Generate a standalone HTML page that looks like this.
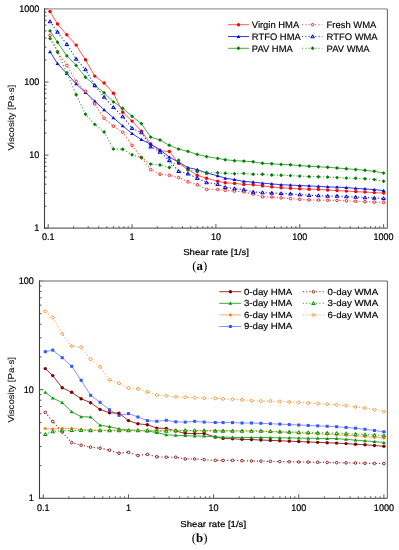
<!DOCTYPE html>
<html><head><meta charset="utf-8"><style>html,body{margin:0;padding:0;background:#fff;width:399px;height:550px;overflow:hidden}svg{display:block;font-family:"Liberation Sans",sans-serif;will-change:transform}text{text-rendering:geometricPrecision}</style></head><body>
<svg width="399" height="550" viewBox="0 0 399 550" font-family="Liberation Sans, sans-serif" fill="#000">
<rect width="399" height="550" fill="#fff"/>
<g stroke="#555" stroke-width="1"><line x1="44.5" y1="228.2" x2="48.5" y2="228.2"/><line x1="44.5" y1="206.19" x2="46.5" y2="206.19"/><line x1="44.5" y1="193.32" x2="46.5" y2="193.32"/><line x1="44.5" y1="184.19" x2="46.5" y2="184.19"/><line x1="44.5" y1="177.11" x2="46.5" y2="177.11"/><line x1="44.5" y1="171.32" x2="46.5" y2="171.32"/><line x1="44.5" y1="166.42" x2="46.5" y2="166.42"/><line x1="44.5" y1="162.18" x2="46.5" y2="162.18"/><line x1="44.5" y1="158.44" x2="46.5" y2="158.44"/><line x1="44.5" y1="155.1" x2="48.5" y2="155.1"/><line x1="44.5" y1="133.09" x2="46.5" y2="133.09"/><line x1="44.5" y1="120.22" x2="46.5" y2="120.22"/><line x1="44.5" y1="111.09" x2="46.5" y2="111.09"/><line x1="44.5" y1="104.01" x2="46.5" y2="104.01"/><line x1="44.5" y1="98.22" x2="46.5" y2="98.22"/><line x1="44.5" y1="93.32" x2="46.5" y2="93.32"/><line x1="44.5" y1="89.08" x2="46.5" y2="89.08"/><line x1="44.5" y1="85.34" x2="46.5" y2="85.34"/><line x1="44.5" y1="82" x2="48.5" y2="82"/><line x1="44.5" y1="59.99" x2="46.5" y2="59.99"/><line x1="44.5" y1="47.12" x2="46.5" y2="47.12"/><line x1="44.5" y1="37.99" x2="46.5" y2="37.99"/><line x1="44.5" y1="30.91" x2="46.5" y2="30.91"/><line x1="44.5" y1="25.12" x2="46.5" y2="25.12"/><line x1="44.5" y1="20.22" x2="46.5" y2="20.22"/><line x1="44.5" y1="15.98" x2="46.5" y2="15.98"/><line x1="44.5" y1="12.24" x2="46.5" y2="12.24"/><line x1="44.5" y1="8.9" x2="48.5" y2="8.9"/><line x1="48.2" y1="228.2" x2="48.2" y2="224.2"/><line x1="73.44" y1="228.2" x2="73.44" y2="226.2"/><line x1="88.21" y1="228.2" x2="88.21" y2="226.2"/><line x1="98.68" y1="228.2" x2="98.68" y2="226.2"/><line x1="106.81" y1="228.2" x2="106.81" y2="226.2"/><line x1="113.45" y1="228.2" x2="113.45" y2="226.2"/><line x1="119.06" y1="228.2" x2="119.06" y2="226.2"/><line x1="123.92" y1="228.2" x2="123.92" y2="226.2"/><line x1="128.21" y1="228.2" x2="128.21" y2="226.2"/><line x1="132.05" y1="228.2" x2="132.05" y2="224.2"/><line x1="157.29" y1="228.2" x2="157.29" y2="226.2"/><line x1="172.06" y1="228.2" x2="172.06" y2="226.2"/><line x1="182.53" y1="228.2" x2="182.53" y2="226.2"/><line x1="190.66" y1="228.2" x2="190.66" y2="226.2"/><line x1="197.3" y1="228.2" x2="197.3" y2="226.2"/><line x1="202.91" y1="228.2" x2="202.91" y2="226.2"/><line x1="207.77" y1="228.2" x2="207.77" y2="226.2"/><line x1="212.06" y1="228.2" x2="212.06" y2="226.2"/><line x1="215.9" y1="228.2" x2="215.9" y2="224.2"/><line x1="241.14" y1="228.2" x2="241.14" y2="226.2"/><line x1="255.91" y1="228.2" x2="255.91" y2="226.2"/><line x1="266.38" y1="228.2" x2="266.38" y2="226.2"/><line x1="274.51" y1="228.2" x2="274.51" y2="226.2"/><line x1="281.15" y1="228.2" x2="281.15" y2="226.2"/><line x1="286.76" y1="228.2" x2="286.76" y2="226.2"/><line x1="291.62" y1="228.2" x2="291.62" y2="226.2"/><line x1="295.91" y1="228.2" x2="295.91" y2="226.2"/><line x1="299.75" y1="228.2" x2="299.75" y2="224.2"/><line x1="324.99" y1="228.2" x2="324.99" y2="226.2"/><line x1="339.76" y1="228.2" x2="339.76" y2="226.2"/><line x1="350.23" y1="228.2" x2="350.23" y2="226.2"/><line x1="358.36" y1="228.2" x2="358.36" y2="226.2"/><line x1="365" y1="228.2" x2="365" y2="226.2"/><line x1="370.61" y1="228.2" x2="370.61" y2="226.2"/><line x1="375.47" y1="228.2" x2="375.47" y2="226.2"/><line x1="379.76" y1="228.2" x2="379.76" y2="226.2"/><line x1="383.6" y1="228.2" x2="383.6" y2="224.2"/></g>
<polyline points="50,11.5 57.52,24 66.83,34.8 76.15,45.1 85.47,59.8 94.78,76.1 104.1,83 113.42,93.2 122.73,112.3 132.05,121.1 141.37,131.3 150.68,143.9 160,150.7 169.32,151.5 178.63,163.4 187.95,169.5 197.27,175.4 206.58,178.2 217.7,181.3 225.22,182.8 234.53,183.4 243.85,184.4 253.17,184.8 262.48,185.9 271.8,186.9 281.12,187.8 290.43,188.3 299.75,188.8 309.07,189.2 318.38,189.4 327.7,190.1 337.02,190.6 346.33,191.1 355.65,191.6 364.97,192.1 374.28,192.6 383.6,193.1" fill="none" stroke="#ff5a5a" stroke-width="1"/>
<circle cx="50" cy="11.5" r="1.7" fill="#ff0000"/>
<circle cx="57.52" cy="24" r="1.7" fill="#ff0000"/>
<circle cx="66.83" cy="34.8" r="1.7" fill="#ff0000"/>
<circle cx="76.15" cy="45.1" r="1.7" fill="#ff0000"/>
<circle cx="85.47" cy="59.8" r="1.7" fill="#ff0000"/>
<circle cx="94.78" cy="76.1" r="1.7" fill="#ff0000"/>
<circle cx="104.1" cy="83" r="1.7" fill="#ff0000"/>
<circle cx="113.42" cy="93.2" r="1.7" fill="#ff0000"/>
<circle cx="122.73" cy="112.3" r="1.7" fill="#ff0000"/>
<circle cx="132.05" cy="121.1" r="1.7" fill="#ff0000"/>
<circle cx="141.37" cy="131.3" r="1.7" fill="#ff0000"/>
<circle cx="150.68" cy="143.9" r="1.7" fill="#ff0000"/>
<circle cx="160" cy="150.7" r="1.7" fill="#ff0000"/>
<circle cx="169.32" cy="151.5" r="1.7" fill="#ff0000"/>
<circle cx="178.63" cy="163.4" r="1.7" fill="#ff0000"/>
<circle cx="187.95" cy="169.5" r="1.7" fill="#ff0000"/>
<circle cx="197.27" cy="175.4" r="1.7" fill="#ff0000"/>
<circle cx="206.58" cy="178.2" r="1.7" fill="#ff0000"/>
<circle cx="217.7" cy="181.3" r="1.7" fill="#ff0000"/>
<circle cx="225.22" cy="182.8" r="1.7" fill="#ff0000"/>
<circle cx="234.53" cy="183.4" r="1.7" fill="#ff0000"/>
<circle cx="243.85" cy="184.4" r="1.7" fill="#ff0000"/>
<circle cx="253.17" cy="184.8" r="1.7" fill="#ff0000"/>
<circle cx="262.48" cy="185.9" r="1.7" fill="#ff0000"/>
<circle cx="271.8" cy="186.9" r="1.7" fill="#ff0000"/>
<circle cx="281.12" cy="187.8" r="1.7" fill="#ff0000"/>
<circle cx="290.43" cy="188.3" r="1.7" fill="#ff0000"/>
<circle cx="299.75" cy="188.8" r="1.7" fill="#ff0000"/>
<circle cx="309.07" cy="189.2" r="1.7" fill="#ff0000"/>
<circle cx="318.38" cy="189.4" r="1.7" fill="#ff0000"/>
<circle cx="327.7" cy="190.1" r="1.7" fill="#ff0000"/>
<circle cx="337.02" cy="190.6" r="1.7" fill="#ff0000"/>
<circle cx="346.33" cy="191.1" r="1.7" fill="#ff0000"/>
<circle cx="355.65" cy="191.6" r="1.7" fill="#ff0000"/>
<circle cx="364.97" cy="192.1" r="1.7" fill="#ff0000"/>
<circle cx="374.28" cy="192.6" r="1.7" fill="#ff0000"/>
<circle cx="383.6" cy="193.1" r="1.7" fill="#ff0000"/>
<polyline points="50,51.7 57.52,63.6 66.83,73.5 76.15,83.9 85.47,92.6 94.78,101.1 104.1,109.8 113.42,117.8 122.73,125.9 132.05,133.5 141.37,139.6 150.68,144.1 160,149.8 169.32,157.1 178.63,162.1 187.95,167.6 197.27,169.6 206.58,173 217.7,175.8 225.22,178.2 234.53,179.6 243.85,181.4 253.17,182.1 262.48,183.2 271.8,183.9 281.12,184.7 290.43,185.1 299.75,185.6 309.07,185.9 318.38,186.4 327.7,186.9 337.02,187.1 346.33,187.6 355.65,188.4 364.97,188.9 374.28,189.6 383.6,190.6" fill="none" stroke="#3a3ae0" stroke-width="1"/>
<polygon points="50,49.9 51.98,53.14 48.02,53.14" fill="#0a0ad8"/>
<polygon points="57.52,61.8 59.5,65.04 55.54,65.04" fill="#0a0ad8"/>
<polygon points="66.83,71.7 68.81,74.94 64.85,74.94" fill="#0a0ad8"/>
<polygon points="76.15,82.1 78.13,85.34 74.17,85.34" fill="#0a0ad8"/>
<polygon points="85.47,90.8 87.45,94.04 83.49,94.04" fill="#0a0ad8"/>
<polygon points="94.78,99.3 96.76,102.54 92.8,102.54" fill="#0a0ad8"/>
<polygon points="104.1,108 106.08,111.24 102.12,111.24" fill="#0a0ad8"/>
<polygon points="113.42,116 115.4,119.24 111.44,119.24" fill="#0a0ad8"/>
<polygon points="122.73,124.1 124.71,127.34 120.75,127.34" fill="#0a0ad8"/>
<polygon points="132.05,131.7 134.03,134.94 130.07,134.94" fill="#0a0ad8"/>
<polygon points="141.37,137.8 143.35,141.04 139.39,141.04" fill="#0a0ad8"/>
<polygon points="150.68,142.3 152.66,145.54 148.7,145.54" fill="#0a0ad8"/>
<polygon points="160,148 161.98,151.24 158.02,151.24" fill="#0a0ad8"/>
<polygon points="169.32,155.3 171.3,158.54 167.34,158.54" fill="#0a0ad8"/>
<polygon points="178.63,160.3 180.61,163.54 176.65,163.54" fill="#0a0ad8"/>
<polygon points="187.95,165.8 189.93,169.04 185.97,169.04" fill="#0a0ad8"/>
<polygon points="197.27,167.8 199.25,171.04 195.29,171.04" fill="#0a0ad8"/>
<polygon points="206.58,171.2 208.56,174.44 204.6,174.44" fill="#0a0ad8"/>
<polygon points="217.7,174 219.68,177.24 215.72,177.24" fill="#0a0ad8"/>
<polygon points="225.22,176.4 227.2,179.64 223.24,179.64" fill="#0a0ad8"/>
<polygon points="234.53,177.8 236.51,181.04 232.55,181.04" fill="#0a0ad8"/>
<polygon points="243.85,179.6 245.83,182.84 241.87,182.84" fill="#0a0ad8"/>
<polygon points="253.17,180.3 255.15,183.54 251.19,183.54" fill="#0a0ad8"/>
<polygon points="262.48,181.4 264.46,184.64 260.5,184.64" fill="#0a0ad8"/>
<polygon points="271.8,182.1 273.78,185.34 269.82,185.34" fill="#0a0ad8"/>
<polygon points="281.12,182.9 283.1,186.14 279.14,186.14" fill="#0a0ad8"/>
<polygon points="290.43,183.3 292.41,186.54 288.45,186.54" fill="#0a0ad8"/>
<polygon points="299.75,183.8 301.73,187.04 297.77,187.04" fill="#0a0ad8"/>
<polygon points="309.07,184.1 311.05,187.34 307.09,187.34" fill="#0a0ad8"/>
<polygon points="318.38,184.6 320.36,187.84 316.4,187.84" fill="#0a0ad8"/>
<polygon points="327.7,185.1 329.68,188.34 325.72,188.34" fill="#0a0ad8"/>
<polygon points="337.02,185.3 339,188.54 335.04,188.54" fill="#0a0ad8"/>
<polygon points="346.33,185.8 348.31,189.04 344.35,189.04" fill="#0a0ad8"/>
<polygon points="355.65,186.6 357.63,189.84 353.67,189.84" fill="#0a0ad8"/>
<polygon points="364.97,187.1 366.95,190.34 362.99,190.34" fill="#0a0ad8"/>
<polygon points="374.28,187.8 376.26,191.04 372.3,191.04" fill="#0a0ad8"/>
<polygon points="383.6,188.8 385.58,192.04 381.62,192.04" fill="#0a0ad8"/>
<polyline points="50,30.9 57.52,42.3 66.83,55.9 76.15,65.4 85.47,77.2 94.78,85.4 104.1,92.8 113.42,101.9 122.73,108.2 132.05,116.3 141.37,123.6 150.68,137.1 160,140 169.32,145.3 178.63,149.1 187.95,151.4 197.27,154.4 206.58,156.6 217.7,158.4 225.22,159.7 234.53,160.7 243.85,161.1 253.17,161.8 262.48,163.3 271.8,163.8 281.12,164.4 290.43,164.8 299.75,165.6 309.07,166.2 318.38,166.7 327.7,167.3 337.02,168 346.33,168.7 355.65,169.5 364.97,170.3 374.28,171.3 383.6,173.1" fill="none" stroke="#48aa48" stroke-width="1"/>
<polygon points="50,28.95 51.95,30.9 50,32.85 48.05,30.9" fill="#008000"/>
<polygon points="57.52,40.35 59.47,42.3 57.52,44.25 55.57,42.3" fill="#008000"/>
<polygon points="66.83,53.95 68.78,55.9 66.83,57.85 64.88,55.9" fill="#008000"/>
<polygon points="76.15,63.45 78.1,65.4 76.15,67.35 74.2,65.4" fill="#008000"/>
<polygon points="85.47,75.25 87.42,77.2 85.47,79.15 83.52,77.2" fill="#008000"/>
<polygon points="94.78,83.45 96.73,85.4 94.78,87.35 92.83,85.4" fill="#008000"/>
<polygon points="104.1,90.85 106.05,92.8 104.1,94.75 102.15,92.8" fill="#008000"/>
<polygon points="113.42,99.95 115.37,101.9 113.42,103.85 111.47,101.9" fill="#008000"/>
<polygon points="122.73,106.25 124.68,108.2 122.73,110.15 120.78,108.2" fill="#008000"/>
<polygon points="132.05,114.35 134,116.3 132.05,118.25 130.1,116.3" fill="#008000"/>
<polygon points="141.37,121.65 143.32,123.6 141.37,125.55 139.42,123.6" fill="#008000"/>
<polygon points="150.68,135.15 152.63,137.1 150.68,139.05 148.73,137.1" fill="#008000"/>
<polygon points="160,138.05 161.95,140 160,141.95 158.05,140" fill="#008000"/>
<polygon points="169.32,143.35 171.27,145.3 169.32,147.25 167.37,145.3" fill="#008000"/>
<polygon points="178.63,147.15 180.58,149.1 178.63,151.05 176.68,149.1" fill="#008000"/>
<polygon points="187.95,149.45 189.9,151.4 187.95,153.35 186,151.4" fill="#008000"/>
<polygon points="197.27,152.45 199.22,154.4 197.27,156.35 195.32,154.4" fill="#008000"/>
<polygon points="206.58,154.65 208.53,156.6 206.58,158.55 204.63,156.6" fill="#008000"/>
<polygon points="217.7,156.45 219.65,158.4 217.7,160.35 215.75,158.4" fill="#008000"/>
<polygon points="225.22,157.75 227.17,159.7 225.22,161.65 223.27,159.7" fill="#008000"/>
<polygon points="234.53,158.75 236.48,160.7 234.53,162.65 232.58,160.7" fill="#008000"/>
<polygon points="243.85,159.15 245.8,161.1 243.85,163.05 241.9,161.1" fill="#008000"/>
<polygon points="253.17,159.85 255.12,161.8 253.17,163.75 251.22,161.8" fill="#008000"/>
<polygon points="262.48,161.35 264.43,163.3 262.48,165.25 260.53,163.3" fill="#008000"/>
<polygon points="271.8,161.85 273.75,163.8 271.8,165.75 269.85,163.8" fill="#008000"/>
<polygon points="281.12,162.45 283.07,164.4 281.12,166.35 279.17,164.4" fill="#008000"/>
<polygon points="290.43,162.85 292.38,164.8 290.43,166.75 288.48,164.8" fill="#008000"/>
<polygon points="299.75,163.65 301.7,165.6 299.75,167.55 297.8,165.6" fill="#008000"/>
<polygon points="309.07,164.25 311.02,166.2 309.07,168.15 307.12,166.2" fill="#008000"/>
<polygon points="318.38,164.75 320.33,166.7 318.38,168.65 316.43,166.7" fill="#008000"/>
<polygon points="327.7,165.35 329.65,167.3 327.7,169.25 325.75,167.3" fill="#008000"/>
<polygon points="337.02,166.05 338.97,168 337.02,169.95 335.07,168" fill="#008000"/>
<polygon points="346.33,166.75 348.28,168.7 346.33,170.65 344.38,168.7" fill="#008000"/>
<polygon points="355.65,167.55 357.6,169.5 355.65,171.45 353.7,169.5" fill="#008000"/>
<polygon points="364.97,168.35 366.92,170.3 364.97,172.25 363.02,170.3" fill="#008000"/>
<polygon points="374.28,169.35 376.23,171.3 374.28,173.25 372.33,171.3" fill="#008000"/>
<polygon points="383.6,171.15 385.55,173.1 383.6,175.05 381.65,173.1" fill="#008000"/>
<polyline points="50,35.4 57.52,51.6 66.83,65.4 76.15,81.4 85.47,91.2 94.78,104 104.1,118.2 113.42,126.2 122.73,132.3 132.05,145.4 141.37,157.6 150.68,169.6 160,174.2 169.32,175.3 178.63,177.6 187.95,181.8 197.27,184.8 206.58,189.4 217.7,189.5 225.22,190.3 234.53,191.1 243.85,191.9 253.17,194.1 262.48,196.8 271.8,197.1 281.12,197.9 290.43,198.6 299.75,199.4 309.07,199.9 318.38,200.1 327.7,200.3 337.02,200.4 346.33,200.84 355.65,201.28 364.97,201.72 374.28,202.16 383.6,202.6" fill="none" stroke="#ff5a5a" stroke-width="1.15" stroke-dasharray="1.2,2.1"/>
<circle cx="50" cy="35.4" r="1.3" fill="#fff" stroke="#ff0000" stroke-width="0.85"/>
<circle cx="57.52" cy="51.6" r="1.3" fill="#fff" stroke="#ff0000" stroke-width="0.85"/>
<circle cx="66.83" cy="65.4" r="1.3" fill="#fff" stroke="#ff0000" stroke-width="0.85"/>
<circle cx="76.15" cy="81.4" r="1.3" fill="#fff" stroke="#ff0000" stroke-width="0.85"/>
<circle cx="85.47" cy="91.2" r="1.3" fill="#fff" stroke="#ff0000" stroke-width="0.85"/>
<circle cx="94.78" cy="104" r="1.3" fill="#fff" stroke="#ff0000" stroke-width="0.85"/>
<circle cx="104.1" cy="118.2" r="1.3" fill="#fff" stroke="#ff0000" stroke-width="0.85"/>
<circle cx="113.42" cy="126.2" r="1.3" fill="#fff" stroke="#ff0000" stroke-width="0.85"/>
<circle cx="122.73" cy="132.3" r="1.3" fill="#fff" stroke="#ff0000" stroke-width="0.85"/>
<circle cx="132.05" cy="145.4" r="1.3" fill="#fff" stroke="#ff0000" stroke-width="0.85"/>
<circle cx="141.37" cy="157.6" r="1.3" fill="#fff" stroke="#ff0000" stroke-width="0.85"/>
<circle cx="150.68" cy="169.6" r="1.3" fill="#fff" stroke="#ff0000" stroke-width="0.85"/>
<circle cx="160" cy="174.2" r="1.3" fill="#fff" stroke="#ff0000" stroke-width="0.85"/>
<circle cx="169.32" cy="175.3" r="1.3" fill="#fff" stroke="#ff0000" stroke-width="0.85"/>
<circle cx="178.63" cy="177.6" r="1.3" fill="#fff" stroke="#ff0000" stroke-width="0.85"/>
<circle cx="187.95" cy="181.8" r="1.3" fill="#fff" stroke="#ff0000" stroke-width="0.85"/>
<circle cx="197.27" cy="184.8" r="1.3" fill="#fff" stroke="#ff0000" stroke-width="0.85"/>
<circle cx="206.58" cy="189.4" r="1.3" fill="#fff" stroke="#ff0000" stroke-width="0.85"/>
<circle cx="217.7" cy="189.5" r="1.3" fill="#fff" stroke="#ff0000" stroke-width="0.85"/>
<circle cx="225.22" cy="190.3" r="1.3" fill="#fff" stroke="#ff0000" stroke-width="0.85"/>
<circle cx="234.53" cy="191.1" r="1.3" fill="#fff" stroke="#ff0000" stroke-width="0.85"/>
<circle cx="243.85" cy="191.9" r="1.3" fill="#fff" stroke="#ff0000" stroke-width="0.85"/>
<circle cx="253.17" cy="194.1" r="1.3" fill="#fff" stroke="#ff0000" stroke-width="0.85"/>
<circle cx="262.48" cy="196.8" r="1.3" fill="#fff" stroke="#ff0000" stroke-width="0.85"/>
<circle cx="271.8" cy="197.1" r="1.3" fill="#fff" stroke="#ff0000" stroke-width="0.85"/>
<circle cx="281.12" cy="197.9" r="1.3" fill="#fff" stroke="#ff0000" stroke-width="0.85"/>
<circle cx="290.43" cy="198.6" r="1.3" fill="#fff" stroke="#ff0000" stroke-width="0.85"/>
<circle cx="299.75" cy="199.4" r="1.3" fill="#fff" stroke="#ff0000" stroke-width="0.85"/>
<circle cx="309.07" cy="199.9" r="1.3" fill="#fff" stroke="#ff0000" stroke-width="0.85"/>
<circle cx="318.38" cy="200.1" r="1.3" fill="#fff" stroke="#ff0000" stroke-width="0.85"/>
<circle cx="327.7" cy="200.3" r="1.3" fill="#fff" stroke="#ff0000" stroke-width="0.85"/>
<circle cx="337.02" cy="200.4" r="1.3" fill="#fff" stroke="#ff0000" stroke-width="0.85"/>
<circle cx="346.33" cy="200.84" r="1.3" fill="#fff" stroke="#ff0000" stroke-width="0.85"/>
<circle cx="355.65" cy="201.28" r="1.3" fill="#fff" stroke="#ff0000" stroke-width="0.85"/>
<circle cx="364.97" cy="201.72" r="1.3" fill="#fff" stroke="#ff0000" stroke-width="0.85"/>
<circle cx="374.28" cy="202.16" r="1.3" fill="#fff" stroke="#ff0000" stroke-width="0.85"/>
<circle cx="383.6" cy="202.6" r="1.3" fill="#fff" stroke="#ff0000" stroke-width="0.85"/>
<polyline points="50,21.5 57.52,32.1 66.83,44.2 76.15,59 85.47,69.6 94.78,85.4 104.1,97 113.42,107.3 122.73,116.6 132.05,128.2 141.37,132.5 150.68,146.7 160,152 169.32,160.4 178.63,171.3 187.95,173.7 197.27,178.2 206.58,182.5 217.7,184.2 225.22,187.3 234.53,188.6 243.85,189.6 253.17,191.9 262.48,192.6 271.8,192.9 281.12,193.4 290.43,193.8 299.75,194.6 309.07,195.3 318.38,195.6 327.7,196.1 337.02,196.1 346.33,196.56 355.65,197.02 364.97,197.48 374.28,197.94 383.6,198.4" fill="none" stroke="#3a3ae0" stroke-width="1.15" stroke-dasharray="1.2,2.1"/>
<polygon points="50,20 51.65,22.7 48.35,22.7" fill="#fff" stroke="#0a0ad8" stroke-width="1.05" stroke-linejoin="round"/>
<polygon points="57.52,30.6 59.17,33.3 55.87,33.3" fill="#fff" stroke="#0a0ad8" stroke-width="1.05" stroke-linejoin="round"/>
<polygon points="66.83,42.7 68.48,45.4 65.18,45.4" fill="#fff" stroke="#0a0ad8" stroke-width="1.05" stroke-linejoin="round"/>
<polygon points="76.15,57.5 77.8,60.2 74.5,60.2" fill="#fff" stroke="#0a0ad8" stroke-width="1.05" stroke-linejoin="round"/>
<polygon points="85.47,68.1 87.12,70.8 83.82,70.8" fill="#fff" stroke="#0a0ad8" stroke-width="1.05" stroke-linejoin="round"/>
<polygon points="94.78,83.9 96.43,86.6 93.13,86.6" fill="#fff" stroke="#0a0ad8" stroke-width="1.05" stroke-linejoin="round"/>
<polygon points="104.1,95.5 105.75,98.2 102.45,98.2" fill="#fff" stroke="#0a0ad8" stroke-width="1.05" stroke-linejoin="round"/>
<polygon points="113.42,105.8 115.07,108.5 111.77,108.5" fill="#fff" stroke="#0a0ad8" stroke-width="1.05" stroke-linejoin="round"/>
<polygon points="122.73,115.1 124.38,117.8 121.08,117.8" fill="#fff" stroke="#0a0ad8" stroke-width="1.05" stroke-linejoin="round"/>
<polygon points="132.05,126.7 133.7,129.4 130.4,129.4" fill="#fff" stroke="#0a0ad8" stroke-width="1.05" stroke-linejoin="round"/>
<polygon points="141.37,131 143.02,133.7 139.72,133.7" fill="#fff" stroke="#0a0ad8" stroke-width="1.05" stroke-linejoin="round"/>
<polygon points="150.68,145.2 152.33,147.9 149.03,147.9" fill="#fff" stroke="#0a0ad8" stroke-width="1.05" stroke-linejoin="round"/>
<polygon points="160,150.5 161.65,153.2 158.35,153.2" fill="#fff" stroke="#0a0ad8" stroke-width="1.05" stroke-linejoin="round"/>
<polygon points="169.32,158.9 170.97,161.6 167.67,161.6" fill="#fff" stroke="#0a0ad8" stroke-width="1.05" stroke-linejoin="round"/>
<polygon points="178.63,169.8 180.28,172.5 176.98,172.5" fill="#fff" stroke="#0a0ad8" stroke-width="1.05" stroke-linejoin="round"/>
<polygon points="187.95,172.2 189.6,174.9 186.3,174.9" fill="#fff" stroke="#0a0ad8" stroke-width="1.05" stroke-linejoin="round"/>
<polygon points="197.27,176.7 198.92,179.4 195.62,179.4" fill="#fff" stroke="#0a0ad8" stroke-width="1.05" stroke-linejoin="round"/>
<polygon points="206.58,181 208.23,183.7 204.93,183.7" fill="#fff" stroke="#0a0ad8" stroke-width="1.05" stroke-linejoin="round"/>
<polygon points="217.7,182.7 219.35,185.4 216.05,185.4" fill="#fff" stroke="#0a0ad8" stroke-width="1.05" stroke-linejoin="round"/>
<polygon points="225.22,185.8 226.87,188.5 223.57,188.5" fill="#fff" stroke="#0a0ad8" stroke-width="1.05" stroke-linejoin="round"/>
<polygon points="234.53,187.1 236.18,189.8 232.88,189.8" fill="#fff" stroke="#0a0ad8" stroke-width="1.05" stroke-linejoin="round"/>
<polygon points="243.85,188.1 245.5,190.8 242.2,190.8" fill="#fff" stroke="#0a0ad8" stroke-width="1.05" stroke-linejoin="round"/>
<polygon points="253.17,190.4 254.82,193.1 251.52,193.1" fill="#fff" stroke="#0a0ad8" stroke-width="1.05" stroke-linejoin="round"/>
<polygon points="262.48,191.1 264.13,193.8 260.83,193.8" fill="#fff" stroke="#0a0ad8" stroke-width="1.05" stroke-linejoin="round"/>
<polygon points="271.8,191.4 273.45,194.1 270.15,194.1" fill="#fff" stroke="#0a0ad8" stroke-width="1.05" stroke-linejoin="round"/>
<polygon points="281.12,191.9 282.77,194.6 279.47,194.6" fill="#fff" stroke="#0a0ad8" stroke-width="1.05" stroke-linejoin="round"/>
<polygon points="290.43,192.3 292.08,195 288.78,195" fill="#fff" stroke="#0a0ad8" stroke-width="1.05" stroke-linejoin="round"/>
<polygon points="299.75,193.1 301.4,195.8 298.1,195.8" fill="#fff" stroke="#0a0ad8" stroke-width="1.05" stroke-linejoin="round"/>
<polygon points="309.07,193.8 310.72,196.5 307.42,196.5" fill="#fff" stroke="#0a0ad8" stroke-width="1.05" stroke-linejoin="round"/>
<polygon points="318.38,194.1 320.03,196.8 316.73,196.8" fill="#fff" stroke="#0a0ad8" stroke-width="1.05" stroke-linejoin="round"/>
<polygon points="327.7,194.6 329.35,197.3 326.05,197.3" fill="#fff" stroke="#0a0ad8" stroke-width="1.05" stroke-linejoin="round"/>
<polygon points="337.02,194.6 338.67,197.3 335.37,197.3" fill="#fff" stroke="#0a0ad8" stroke-width="1.05" stroke-linejoin="round"/>
<polygon points="346.33,195.06 347.98,197.76 344.68,197.76" fill="#fff" stroke="#0a0ad8" stroke-width="1.05" stroke-linejoin="round"/>
<polygon points="355.65,195.52 357.3,198.22 354,198.22" fill="#fff" stroke="#0a0ad8" stroke-width="1.05" stroke-linejoin="round"/>
<polygon points="364.97,195.98 366.62,198.68 363.32,198.68" fill="#fff" stroke="#0a0ad8" stroke-width="1.05" stroke-linejoin="round"/>
<polygon points="374.28,196.44 375.93,199.14 372.63,199.14" fill="#fff" stroke="#0a0ad8" stroke-width="1.05" stroke-linejoin="round"/>
<polygon points="383.6,196.9 385.25,199.6 381.95,199.6" fill="#fff" stroke="#0a0ad8" stroke-width="1.05" stroke-linejoin="round"/>
<polyline points="50,38.6 57.52,52.2 66.83,72.8 76.15,94.8 85.47,114.2 94.78,124.4 104.1,132 113.42,149 122.73,149.2 132.05,154.7 141.37,157.6 150.68,164.1 160,165 169.32,167.5 178.63,160.2 187.95,170.1 197.27,171.7 206.58,172.5 217.7,172.8 225.22,173.2 234.53,173.7 243.85,173.4 253.17,174.3 262.48,174.3 271.8,175 281.12,175.3 290.43,175.6 299.75,176.1 309.07,176.6 318.38,176.8 327.7,177.1 337.02,177.6 346.33,178.1 355.65,178.3 364.97,178.8 374.28,179.6 383.6,181.3" fill="none" stroke="#48aa48" stroke-width="1.15" stroke-dasharray="1.2,2.1"/>
<polygon points="50,36.65 51.95,38.6 50,40.55 48.05,38.6" fill="#008000"/>
<polygon points="57.52,50.25 59.47,52.2 57.52,54.15 55.57,52.2" fill="#008000"/>
<polygon points="66.83,70.85 68.78,72.8 66.83,74.75 64.88,72.8" fill="#008000"/>
<polygon points="76.15,92.85 78.1,94.8 76.15,96.75 74.2,94.8" fill="#008000"/>
<polygon points="85.47,112.25 87.42,114.2 85.47,116.15 83.52,114.2" fill="#008000"/>
<polygon points="94.78,122.45 96.73,124.4 94.78,126.35 92.83,124.4" fill="#008000"/>
<polygon points="104.1,130.05 106.05,132 104.1,133.95 102.15,132" fill="#008000"/>
<polygon points="113.42,147.05 115.37,149 113.42,150.95 111.47,149" fill="#008000"/>
<polygon points="122.73,147.25 124.68,149.2 122.73,151.15 120.78,149.2" fill="#008000"/>
<polygon points="132.05,152.75 134,154.7 132.05,156.65 130.1,154.7" fill="#008000"/>
<polygon points="141.37,155.65 143.32,157.6 141.37,159.55 139.42,157.6" fill="#008000"/>
<polygon points="150.68,162.15 152.63,164.1 150.68,166.05 148.73,164.1" fill="#008000"/>
<polygon points="160,163.05 161.95,165 160,166.95 158.05,165" fill="#008000"/>
<polygon points="169.32,165.55 171.27,167.5 169.32,169.45 167.37,167.5" fill="#008000"/>
<polygon points="178.63,158.25 180.58,160.2 178.63,162.15 176.68,160.2" fill="#008000"/>
<polygon points="187.95,168.15 189.9,170.1 187.95,172.05 186,170.1" fill="#008000"/>
<polygon points="197.27,169.75 199.22,171.7 197.27,173.65 195.32,171.7" fill="#008000"/>
<polygon points="206.58,170.55 208.53,172.5 206.58,174.45 204.63,172.5" fill="#008000"/>
<polygon points="217.7,170.85 219.65,172.8 217.7,174.75 215.75,172.8" fill="#008000"/>
<polygon points="225.22,171.25 227.17,173.2 225.22,175.15 223.27,173.2" fill="#008000"/>
<polygon points="234.53,171.75 236.48,173.7 234.53,175.65 232.58,173.7" fill="#008000"/>
<polygon points="243.85,171.45 245.8,173.4 243.85,175.35 241.9,173.4" fill="#008000"/>
<polygon points="253.17,172.35 255.12,174.3 253.17,176.25 251.22,174.3" fill="#008000"/>
<polygon points="262.48,172.35 264.43,174.3 262.48,176.25 260.53,174.3" fill="#008000"/>
<polygon points="271.8,173.05 273.75,175 271.8,176.95 269.85,175" fill="#008000"/>
<polygon points="281.12,173.35 283.07,175.3 281.12,177.25 279.17,175.3" fill="#008000"/>
<polygon points="290.43,173.65 292.38,175.6 290.43,177.55 288.48,175.6" fill="#008000"/>
<polygon points="299.75,174.15 301.7,176.1 299.75,178.05 297.8,176.1" fill="#008000"/>
<polygon points="309.07,174.65 311.02,176.6 309.07,178.55 307.12,176.6" fill="#008000"/>
<polygon points="318.38,174.85 320.33,176.8 318.38,178.75 316.43,176.8" fill="#008000"/>
<polygon points="327.7,175.15 329.65,177.1 327.7,179.05 325.75,177.1" fill="#008000"/>
<polygon points="337.02,175.65 338.97,177.6 337.02,179.55 335.07,177.6" fill="#008000"/>
<polygon points="346.33,176.15 348.28,178.1 346.33,180.05 344.38,178.1" fill="#008000"/>
<polygon points="355.65,176.35 357.6,178.3 355.65,180.25 353.7,178.3" fill="#008000"/>
<polygon points="364.97,176.85 366.92,178.8 364.97,180.75 363.02,178.8" fill="#008000"/>
<polygon points="374.28,177.65 376.23,179.6 374.28,181.55 372.33,179.6" fill="#008000"/>
<polygon points="383.6,179.35 385.55,181.3 383.6,183.25 381.65,181.3" fill="#008000"/>
<line x1="44.5" y1="8.9" x2="387.4" y2="8.9" stroke="#9a9a9a" stroke-width="1.4"/><line x1="387.4" y1="8.9" x2="387.4" y2="228.2" stroke="#6e6e6e" stroke-width="1.1"/><line x1="44.5" y1="228.2" x2="387.4" y2="228.2" stroke="#666" stroke-width="1.3"/><line x1="44.5" y1="8.3" x2="44.5" y2="228.8" stroke="#3c3c3c" stroke-width="1.1"/>
<g stroke="#555" stroke-width="1"><line x1="39.5" y1="498.3" x2="43.5" y2="498.3"/><line x1="39.5" y1="465.59" x2="41.5" y2="465.59"/><line x1="39.5" y1="446.46" x2="41.5" y2="446.46"/><line x1="39.5" y1="432.89" x2="41.5" y2="432.89"/><line x1="39.5" y1="422.36" x2="41.5" y2="422.36"/><line x1="39.5" y1="413.75" x2="41.5" y2="413.75"/><line x1="39.5" y1="406.48" x2="41.5" y2="406.48"/><line x1="39.5" y1="400.18" x2="41.5" y2="400.18"/><line x1="39.5" y1="394.62" x2="41.5" y2="394.62"/><line x1="39.5" y1="389.65" x2="43.5" y2="389.65"/><line x1="39.5" y1="356.94" x2="41.5" y2="356.94"/><line x1="39.5" y1="337.81" x2="41.5" y2="337.81"/><line x1="39.5" y1="324.24" x2="41.5" y2="324.24"/><line x1="39.5" y1="313.71" x2="41.5" y2="313.71"/><line x1="39.5" y1="305.1" x2="41.5" y2="305.1"/><line x1="39.5" y1="297.83" x2="41.5" y2="297.83"/><line x1="39.5" y1="291.53" x2="41.5" y2="291.53"/><line x1="39.5" y1="285.97" x2="41.5" y2="285.97"/><line x1="39.5" y1="281" x2="43.5" y2="281"/><line x1="43.3" y1="498.3" x2="43.3" y2="494.3"/><line x1="68.93" y1="498.3" x2="68.93" y2="496.3"/><line x1="83.93" y1="498.3" x2="83.93" y2="496.3"/><line x1="94.57" y1="498.3" x2="94.57" y2="496.3"/><line x1="102.82" y1="498.3" x2="102.82" y2="496.3"/><line x1="109.56" y1="498.3" x2="109.56" y2="496.3"/><line x1="115.26" y1="498.3" x2="115.26" y2="496.3"/><line x1="120.2" y1="498.3" x2="120.2" y2="496.3"/><line x1="124.55" y1="498.3" x2="124.55" y2="496.3"/><line x1="128.45" y1="498.3" x2="128.45" y2="494.3"/><line x1="154.08" y1="498.3" x2="154.08" y2="496.3"/><line x1="169.08" y1="498.3" x2="169.08" y2="496.3"/><line x1="179.72" y1="498.3" x2="179.72" y2="496.3"/><line x1="187.97" y1="498.3" x2="187.97" y2="496.3"/><line x1="194.71" y1="498.3" x2="194.71" y2="496.3"/><line x1="200.41" y1="498.3" x2="200.41" y2="496.3"/><line x1="205.35" y1="498.3" x2="205.35" y2="496.3"/><line x1="209.7" y1="498.3" x2="209.7" y2="496.3"/><line x1="213.6" y1="498.3" x2="213.6" y2="494.3"/><line x1="239.23" y1="498.3" x2="239.23" y2="496.3"/><line x1="254.23" y1="498.3" x2="254.23" y2="496.3"/><line x1="264.87" y1="498.3" x2="264.87" y2="496.3"/><line x1="273.12" y1="498.3" x2="273.12" y2="496.3"/><line x1="279.86" y1="498.3" x2="279.86" y2="496.3"/><line x1="285.56" y1="498.3" x2="285.56" y2="496.3"/><line x1="290.5" y1="498.3" x2="290.5" y2="496.3"/><line x1="294.85" y1="498.3" x2="294.85" y2="496.3"/><line x1="298.75" y1="498.3" x2="298.75" y2="494.3"/><line x1="324.38" y1="498.3" x2="324.38" y2="496.3"/><line x1="339.38" y1="498.3" x2="339.38" y2="496.3"/><line x1="350.02" y1="498.3" x2="350.02" y2="496.3"/><line x1="358.27" y1="498.3" x2="358.27" y2="496.3"/><line x1="365.01" y1="498.3" x2="365.01" y2="496.3"/><line x1="370.71" y1="498.3" x2="370.71" y2="496.3"/><line x1="375.65" y1="498.3" x2="375.65" y2="496.3"/><line x1="380" y1="498.3" x2="380" y2="496.3"/><line x1="383.9" y1="498.3" x2="383.9" y2="494.3"/></g>
<polyline points="45.3,351.7 52.76,350.1 62.22,357.7 71.68,366.3 81.14,380.3 90.61,395.3 100.07,402.3 109.53,409.8 118.99,415.4 128.45,413.6 137.91,417 147.37,420.6 156.83,421.3 166.29,420.3 175.76,421.8 185.22,422.1 194.68,421.3 204.14,422.1 215.3,422.5 223.06,422.6 232.52,422.6 241.98,423 251.44,423 260.91,423.3 270.37,423.73 279.83,424.15 289.29,424.57 298.75,425 308.21,425.43 317.67,425.85 327.13,426.27 336.59,426.7 346.06,427.5 355.52,428.2 364.98,429.3 374.44,430.5 383.9,431.8" fill="none" stroke="#8596ff" stroke-width="1"/>
<rect x="43.8" y="350.2" width="3" height="3" fill="#3355ff"/>
<rect x="51.26" y="348.6" width="3" height="3" fill="#3355ff"/>
<rect x="60.72" y="356.2" width="3" height="3" fill="#3355ff"/>
<rect x="70.18" y="364.8" width="3" height="3" fill="#3355ff"/>
<rect x="79.64" y="378.8" width="3" height="3" fill="#3355ff"/>
<rect x="89.11" y="393.8" width="3" height="3" fill="#3355ff"/>
<rect x="98.57" y="400.8" width="3" height="3" fill="#3355ff"/>
<rect x="108.03" y="408.3" width="3" height="3" fill="#3355ff"/>
<rect x="117.49" y="413.9" width="3" height="3" fill="#3355ff"/>
<rect x="126.95" y="412.1" width="3" height="3" fill="#3355ff"/>
<rect x="136.41" y="415.5" width="3" height="3" fill="#3355ff"/>
<rect x="145.87" y="419.1" width="3" height="3" fill="#3355ff"/>
<rect x="155.33" y="419.8" width="3" height="3" fill="#3355ff"/>
<rect x="164.79" y="418.8" width="3" height="3" fill="#3355ff"/>
<rect x="174.26" y="420.3" width="3" height="3" fill="#3355ff"/>
<rect x="183.72" y="420.6" width="3" height="3" fill="#3355ff"/>
<rect x="193.18" y="419.8" width="3" height="3" fill="#3355ff"/>
<rect x="202.64" y="420.6" width="3" height="3" fill="#3355ff"/>
<rect x="213.8" y="421" width="3" height="3" fill="#3355ff"/>
<rect x="221.56" y="421.1" width="3" height="3" fill="#3355ff"/>
<rect x="231.02" y="421.1" width="3" height="3" fill="#3355ff"/>
<rect x="240.48" y="421.5" width="3" height="3" fill="#3355ff"/>
<rect x="249.94" y="421.5" width="3" height="3" fill="#3355ff"/>
<rect x="259.41" y="421.8" width="3" height="3" fill="#3355ff"/>
<rect x="268.87" y="422.23" width="3" height="3" fill="#3355ff"/>
<rect x="278.33" y="422.65" width="3" height="3" fill="#3355ff"/>
<rect x="287.79" y="423.07" width="3" height="3" fill="#3355ff"/>
<rect x="297.25" y="423.5" width="3" height="3" fill="#3355ff"/>
<rect x="306.71" y="423.93" width="3" height="3" fill="#3355ff"/>
<rect x="316.17" y="424.35" width="3" height="3" fill="#3355ff"/>
<rect x="325.63" y="424.77" width="3" height="3" fill="#3355ff"/>
<rect x="335.09" y="425.2" width="3" height="3" fill="#3355ff"/>
<rect x="344.56" y="426" width="3" height="3" fill="#3355ff"/>
<rect x="354.02" y="426.7" width="3" height="3" fill="#3355ff"/>
<rect x="363.48" y="427.8" width="3" height="3" fill="#3355ff"/>
<rect x="372.94" y="429" width="3" height="3" fill="#3355ff"/>
<rect x="382.4" y="430.3" width="3" height="3" fill="#3355ff"/>
<polyline points="45.3,368.6 52.76,375.6 62.22,387.8 71.68,392.3 81.14,398.7 90.61,402.7 100.07,409.4 109.53,412.8 118.99,413.1 128.45,420.6 137.91,423.8 147.37,424.7 156.83,428.1 166.29,428.4 175.76,431.1 185.22,433.3 194.68,433.6 204.14,433.5 215.3,437 223.06,438.4 232.52,438.8 241.98,439.3 251.44,439.6 260.91,440 270.37,440.39 279.83,440.77 289.29,441.16 298.75,441.55 308.21,441.94 317.67,442.33 327.13,442.71 336.59,443.1 346.06,443.6 355.52,444.3 364.98,444.8 374.44,445.5 383.9,446.3" fill="none" stroke="#9a3030" stroke-width="1"/>
<circle cx="45.3" cy="368.6" r="1.7" fill="#800000"/>
<circle cx="52.76" cy="375.6" r="1.7" fill="#800000"/>
<circle cx="62.22" cy="387.8" r="1.7" fill="#800000"/>
<circle cx="71.68" cy="392.3" r="1.7" fill="#800000"/>
<circle cx="81.14" cy="398.7" r="1.7" fill="#800000"/>
<circle cx="90.61" cy="402.7" r="1.7" fill="#800000"/>
<circle cx="100.07" cy="409.4" r="1.7" fill="#800000"/>
<circle cx="109.53" cy="412.8" r="1.7" fill="#800000"/>
<circle cx="118.99" cy="413.1" r="1.7" fill="#800000"/>
<circle cx="128.45" cy="420.6" r="1.7" fill="#800000"/>
<circle cx="137.91" cy="423.8" r="1.7" fill="#800000"/>
<circle cx="147.37" cy="424.7" r="1.7" fill="#800000"/>
<circle cx="156.83" cy="428.1" r="1.7" fill="#800000"/>
<circle cx="166.29" cy="428.4" r="1.7" fill="#800000"/>
<circle cx="175.76" cy="431.1" r="1.7" fill="#800000"/>
<circle cx="185.22" cy="433.3" r="1.7" fill="#800000"/>
<circle cx="194.68" cy="433.6" r="1.7" fill="#800000"/>
<circle cx="204.14" cy="433.5" r="1.7" fill="#800000"/>
<circle cx="215.3" cy="437" r="1.7" fill="#800000"/>
<circle cx="223.06" cy="438.4" r="1.7" fill="#800000"/>
<circle cx="232.52" cy="438.8" r="1.7" fill="#800000"/>
<circle cx="241.98" cy="439.3" r="1.7" fill="#800000"/>
<circle cx="251.44" cy="439.6" r="1.7" fill="#800000"/>
<circle cx="260.91" cy="440" r="1.7" fill="#800000"/>
<circle cx="270.37" cy="440.39" r="1.7" fill="#800000"/>
<circle cx="279.83" cy="440.77" r="1.7" fill="#800000"/>
<circle cx="289.29" cy="441.16" r="1.7" fill="#800000"/>
<circle cx="298.75" cy="441.55" r="1.7" fill="#800000"/>
<circle cx="308.21" cy="441.94" r="1.7" fill="#800000"/>
<circle cx="317.67" cy="442.33" r="1.7" fill="#800000"/>
<circle cx="327.13" cy="442.71" r="1.7" fill="#800000"/>
<circle cx="336.59" cy="443.1" r="1.7" fill="#800000"/>
<circle cx="346.06" cy="443.6" r="1.7" fill="#800000"/>
<circle cx="355.52" cy="444.3" r="1.7" fill="#800000"/>
<circle cx="364.98" cy="444.8" r="1.7" fill="#800000"/>
<circle cx="374.44" cy="445.5" r="1.7" fill="#800000"/>
<circle cx="383.9" cy="446.3" r="1.7" fill="#800000"/>
<polyline points="45.3,392.4 52.76,398 62.22,402.6 71.68,411.8 81.14,416.7 90.61,417 100.07,425.3 109.53,426.6 118.99,428.9 128.45,430 137.91,430.4 147.37,431 156.83,432.6 166.29,434.8 175.76,435.3 185.22,435.6 194.68,436 204.14,436.1 215.3,437 223.06,437 232.52,437.4 241.98,437.5 251.44,437.5 260.91,437.5 270.37,437.64 279.83,437.77 289.29,437.91 298.75,438.05 308.21,438.19 317.67,438.33 327.13,438.46 336.59,438.6 346.06,439.4 355.52,440.1 364.98,440.9 374.44,441.6 383.9,442.5" fill="none" stroke="#3aaa3a" stroke-width="1"/>
<polygon points="45.3,390.6 47.28,393.84 43.32,393.84" fill="#0a9a0a"/>
<polygon points="52.76,396.2 54.74,399.44 50.78,399.44" fill="#0a9a0a"/>
<polygon points="62.22,400.8 64.2,404.04 60.24,404.04" fill="#0a9a0a"/>
<polygon points="71.68,410 73.66,413.24 69.7,413.24" fill="#0a9a0a"/>
<polygon points="81.14,414.9 83.12,418.14 79.16,418.14" fill="#0a9a0a"/>
<polygon points="90.61,415.2 92.59,418.44 88.63,418.44" fill="#0a9a0a"/>
<polygon points="100.07,423.5 102.05,426.74 98.09,426.74" fill="#0a9a0a"/>
<polygon points="109.53,424.8 111.51,428.04 107.55,428.04" fill="#0a9a0a"/>
<polygon points="118.99,427.1 120.97,430.34 117.01,430.34" fill="#0a9a0a"/>
<polygon points="128.45,428.2 130.43,431.44 126.47,431.44" fill="#0a9a0a"/>
<polygon points="137.91,428.6 139.89,431.84 135.93,431.84" fill="#0a9a0a"/>
<polygon points="147.37,429.2 149.35,432.44 145.39,432.44" fill="#0a9a0a"/>
<polygon points="156.83,430.8 158.81,434.04 154.85,434.04" fill="#0a9a0a"/>
<polygon points="166.29,433 168.27,436.24 164.31,436.24" fill="#0a9a0a"/>
<polygon points="175.76,433.5 177.74,436.74 173.78,436.74" fill="#0a9a0a"/>
<polygon points="185.22,433.8 187.2,437.04 183.24,437.04" fill="#0a9a0a"/>
<polygon points="194.68,434.2 196.66,437.44 192.7,437.44" fill="#0a9a0a"/>
<polygon points="204.14,434.3 206.12,437.54 202.16,437.54" fill="#0a9a0a"/>
<polygon points="215.3,435.2 217.28,438.44 213.32,438.44" fill="#0a9a0a"/>
<polygon points="223.06,435.2 225.04,438.44 221.08,438.44" fill="#0a9a0a"/>
<polygon points="232.52,435.6 234.5,438.84 230.54,438.84" fill="#0a9a0a"/>
<polygon points="241.98,435.7 243.96,438.94 240,438.94" fill="#0a9a0a"/>
<polygon points="251.44,435.7 253.42,438.94 249.46,438.94" fill="#0a9a0a"/>
<polygon points="260.91,435.7 262.89,438.94 258.93,438.94" fill="#0a9a0a"/>
<polygon points="270.37,435.84 272.35,439.08 268.39,439.08" fill="#0a9a0a"/>
<polygon points="279.83,435.97 281.81,439.21 277.85,439.21" fill="#0a9a0a"/>
<polygon points="289.29,436.11 291.27,439.35 287.31,439.35" fill="#0a9a0a"/>
<polygon points="298.75,436.25 300.73,439.49 296.77,439.49" fill="#0a9a0a"/>
<polygon points="308.21,436.39 310.19,439.63 306.23,439.63" fill="#0a9a0a"/>
<polygon points="317.67,436.53 319.65,439.77 315.69,439.77" fill="#0a9a0a"/>
<polygon points="327.13,436.66 329.11,439.9 325.15,439.9" fill="#0a9a0a"/>
<polygon points="336.59,436.8 338.57,440.04 334.61,440.04" fill="#0a9a0a"/>
<polygon points="346.06,437.6 348.04,440.84 344.08,440.84" fill="#0a9a0a"/>
<polygon points="355.52,438.3 357.5,441.54 353.54,441.54" fill="#0a9a0a"/>
<polygon points="364.98,439.1 366.96,442.34 363,442.34" fill="#0a9a0a"/>
<polygon points="374.44,439.8 376.42,443.04 372.46,443.04" fill="#0a9a0a"/>
<polygon points="383.9,440.7 385.88,443.94 381.92,443.94" fill="#0a9a0a"/>
<polyline points="45.3,428.6 52.76,429.1 62.22,428.4 71.68,428.4 81.14,429.5 90.61,430 100.07,430.2 109.53,430.3 118.99,430.3 128.45,430.3 137.91,430.3 147.37,430.3 156.83,430.3 166.29,430.3 175.76,430.3 185.22,430.3 194.68,430.4 204.14,430.5 215.3,430.6 223.06,430.7 232.52,430.8 241.98,430.9 251.44,431 260.91,431.1 270.37,431.57 279.83,432.03 289.29,432.5 298.75,432.97 308.21,433.43 317.67,433.9 327.13,434.37 336.59,434.83 346.06,435.3 355.52,435.9 364.98,436.5 374.44,437.3 383.9,437.9" fill="none" stroke="#ffb070" stroke-width="1"/>
<polygon points="45.3,426.65 47.25,428.6 45.3,430.55 43.35,428.6" fill="#ff8000"/>
<polygon points="52.76,427.15 54.71,429.1 52.76,431.05 50.81,429.1" fill="#ff8000"/>
<polygon points="62.22,426.45 64.17,428.4 62.22,430.35 60.27,428.4" fill="#ff8000"/>
<polygon points="71.68,426.45 73.63,428.4 71.68,430.35 69.73,428.4" fill="#ff8000"/>
<polygon points="81.14,427.55 83.09,429.5 81.14,431.45 79.19,429.5" fill="#ff8000"/>
<polygon points="90.61,428.05 92.56,430 90.61,431.95 88.66,430" fill="#ff8000"/>
<polygon points="100.07,428.25 102.02,430.2 100.07,432.15 98.12,430.2" fill="#ff8000"/>
<polygon points="109.53,428.35 111.48,430.3 109.53,432.25 107.58,430.3" fill="#ff8000"/>
<polygon points="118.99,428.35 120.94,430.3 118.99,432.25 117.04,430.3" fill="#ff8000"/>
<polygon points="128.45,428.35 130.4,430.3 128.45,432.25 126.5,430.3" fill="#ff8000"/>
<polygon points="137.91,428.35 139.86,430.3 137.91,432.25 135.96,430.3" fill="#ff8000"/>
<polygon points="147.37,428.35 149.32,430.3 147.37,432.25 145.42,430.3" fill="#ff8000"/>
<polygon points="156.83,428.35 158.78,430.3 156.83,432.25 154.88,430.3" fill="#ff8000"/>
<polygon points="166.29,428.35 168.24,430.3 166.29,432.25 164.34,430.3" fill="#ff8000"/>
<polygon points="175.76,428.35 177.71,430.3 175.76,432.25 173.81,430.3" fill="#ff8000"/>
<polygon points="185.22,428.35 187.17,430.3 185.22,432.25 183.27,430.3" fill="#ff8000"/>
<polygon points="194.68,428.45 196.63,430.4 194.68,432.35 192.73,430.4" fill="#ff8000"/>
<polygon points="204.14,428.55 206.09,430.5 204.14,432.45 202.19,430.5" fill="#ff8000"/>
<polygon points="215.3,428.65 217.25,430.6 215.3,432.55 213.35,430.6" fill="#ff8000"/>
<polygon points="223.06,428.75 225.01,430.7 223.06,432.65 221.11,430.7" fill="#ff8000"/>
<polygon points="232.52,428.85 234.47,430.8 232.52,432.75 230.57,430.8" fill="#ff8000"/>
<polygon points="241.98,428.95 243.93,430.9 241.98,432.85 240.03,430.9" fill="#ff8000"/>
<polygon points="251.44,429.05 253.39,431 251.44,432.95 249.49,431" fill="#ff8000"/>
<polygon points="260.91,429.15 262.86,431.1 260.91,433.05 258.96,431.1" fill="#ff8000"/>
<polygon points="270.37,429.62 272.32,431.57 270.37,433.52 268.42,431.57" fill="#ff8000"/>
<polygon points="279.83,430.08 281.78,432.03 279.83,433.98 277.88,432.03" fill="#ff8000"/>
<polygon points="289.29,430.55 291.24,432.5 289.29,434.45 287.34,432.5" fill="#ff8000"/>
<polygon points="298.75,431.02 300.7,432.97 298.75,434.92 296.8,432.97" fill="#ff8000"/>
<polygon points="308.21,431.48 310.16,433.43 308.21,435.38 306.26,433.43" fill="#ff8000"/>
<polygon points="317.67,431.95 319.62,433.9 317.67,435.85 315.72,433.9" fill="#ff8000"/>
<polygon points="327.13,432.42 329.08,434.37 327.13,436.32 325.18,434.37" fill="#ff8000"/>
<polygon points="336.59,432.88 338.54,434.83 336.59,436.78 334.64,434.83" fill="#ff8000"/>
<polygon points="346.06,433.35 348.01,435.3 346.06,437.25 344.11,435.3" fill="#ff8000"/>
<polygon points="355.52,433.95 357.47,435.9 355.52,437.85 353.57,435.9" fill="#ff8000"/>
<polygon points="364.98,434.55 366.93,436.5 364.98,438.45 363.03,436.5" fill="#ff8000"/>
<polygon points="374.44,435.35 376.39,437.3 374.44,439.25 372.49,437.3" fill="#ff8000"/>
<polygon points="383.9,435.95 385.85,437.9 383.9,439.85 381.95,437.9" fill="#ff8000"/>
<polyline points="45.3,412.4 52.76,421.5 62.22,432 71.68,442.6 81.14,445.2 90.61,447.1 100.07,448.2 109.53,450.2 118.99,453.2 128.45,452.3 137.91,455.5 147.37,454.4 156.83,456.8 166.29,457.2 175.76,457.2 185.22,459 194.68,459 204.14,459.6 215.3,460.4 223.06,460.4 232.52,460.4 241.98,460.7 251.44,461 260.91,461.19 270.37,461.37 279.83,461.56 289.29,461.74 298.75,461.93 308.21,462.11 317.67,462.3 327.13,462.49 336.59,462.67 346.06,462.86 355.52,463.04 364.98,463.23 374.44,463.41 383.9,463.6" fill="none" stroke="#9a3030" stroke-width="1.15" stroke-dasharray="1.2,2.1"/>
<circle cx="45.3" cy="412.4" r="1.3" fill="#fff" stroke="#800000" stroke-width="0.85"/>
<circle cx="52.76" cy="421.5" r="1.3" fill="#fff" stroke="#800000" stroke-width="0.85"/>
<circle cx="62.22" cy="432" r="1.3" fill="#fff" stroke="#800000" stroke-width="0.85"/>
<circle cx="71.68" cy="442.6" r="1.3" fill="#fff" stroke="#800000" stroke-width="0.85"/>
<circle cx="81.14" cy="445.2" r="1.3" fill="#fff" stroke="#800000" stroke-width="0.85"/>
<circle cx="90.61" cy="447.1" r="1.3" fill="#fff" stroke="#800000" stroke-width="0.85"/>
<circle cx="100.07" cy="448.2" r="1.3" fill="#fff" stroke="#800000" stroke-width="0.85"/>
<circle cx="109.53" cy="450.2" r="1.3" fill="#fff" stroke="#800000" stroke-width="0.85"/>
<circle cx="118.99" cy="453.2" r="1.3" fill="#fff" stroke="#800000" stroke-width="0.85"/>
<circle cx="128.45" cy="452.3" r="1.3" fill="#fff" stroke="#800000" stroke-width="0.85"/>
<circle cx="137.91" cy="455.5" r="1.3" fill="#fff" stroke="#800000" stroke-width="0.85"/>
<circle cx="147.37" cy="454.4" r="1.3" fill="#fff" stroke="#800000" stroke-width="0.85"/>
<circle cx="156.83" cy="456.8" r="1.3" fill="#fff" stroke="#800000" stroke-width="0.85"/>
<circle cx="166.29" cy="457.2" r="1.3" fill="#fff" stroke="#800000" stroke-width="0.85"/>
<circle cx="175.76" cy="457.2" r="1.3" fill="#fff" stroke="#800000" stroke-width="0.85"/>
<circle cx="185.22" cy="459" r="1.3" fill="#fff" stroke="#800000" stroke-width="0.85"/>
<circle cx="194.68" cy="459" r="1.3" fill="#fff" stroke="#800000" stroke-width="0.85"/>
<circle cx="204.14" cy="459.6" r="1.3" fill="#fff" stroke="#800000" stroke-width="0.85"/>
<circle cx="215.3" cy="460.4" r="1.3" fill="#fff" stroke="#800000" stroke-width="0.85"/>
<circle cx="223.06" cy="460.4" r="1.3" fill="#fff" stroke="#800000" stroke-width="0.85"/>
<circle cx="232.52" cy="460.4" r="1.3" fill="#fff" stroke="#800000" stroke-width="0.85"/>
<circle cx="241.98" cy="460.7" r="1.3" fill="#fff" stroke="#800000" stroke-width="0.85"/>
<circle cx="251.44" cy="461" r="1.3" fill="#fff" stroke="#800000" stroke-width="0.85"/>
<circle cx="260.91" cy="461.19" r="1.3" fill="#fff" stroke="#800000" stroke-width="0.85"/>
<circle cx="270.37" cy="461.37" r="1.3" fill="#fff" stroke="#800000" stroke-width="0.85"/>
<circle cx="279.83" cy="461.56" r="1.3" fill="#fff" stroke="#800000" stroke-width="0.85"/>
<circle cx="289.29" cy="461.74" r="1.3" fill="#fff" stroke="#800000" stroke-width="0.85"/>
<circle cx="298.75" cy="461.93" r="1.3" fill="#fff" stroke="#800000" stroke-width="0.85"/>
<circle cx="308.21" cy="462.11" r="1.3" fill="#fff" stroke="#800000" stroke-width="0.85"/>
<circle cx="317.67" cy="462.3" r="1.3" fill="#fff" stroke="#800000" stroke-width="0.85"/>
<circle cx="327.13" cy="462.49" r="1.3" fill="#fff" stroke="#800000" stroke-width="0.85"/>
<circle cx="336.59" cy="462.67" r="1.3" fill="#fff" stroke="#800000" stroke-width="0.85"/>
<circle cx="346.06" cy="462.86" r="1.3" fill="#fff" stroke="#800000" stroke-width="0.85"/>
<circle cx="355.52" cy="463.04" r="1.3" fill="#fff" stroke="#800000" stroke-width="0.85"/>
<circle cx="364.98" cy="463.23" r="1.3" fill="#fff" stroke="#800000" stroke-width="0.85"/>
<circle cx="374.44" cy="463.41" r="1.3" fill="#fff" stroke="#800000" stroke-width="0.85"/>
<circle cx="383.9" cy="463.6" r="1.3" fill="#fff" stroke="#800000" stroke-width="0.85"/>
<polyline points="45.3,434.3 52.76,431.5 62.22,430.5 71.68,430.3 81.14,430.3 90.61,430.4 100.07,430.5 109.53,430.6 118.99,430.6 128.45,430.6 137.91,430.6 147.37,430.6 156.83,431.1 166.29,431.1 175.76,430.6 185.22,430.6 194.68,430.6 204.14,430.8 215.3,430.9 223.06,430.9 232.52,430.9 241.98,431 251.44,431 260.91,431.1 270.37,431.38 279.83,431.65 289.29,431.93 298.75,432.2 308.21,432.48 317.67,432.75 327.13,433.03 336.59,433.3 346.06,433.5 355.52,434.1 364.98,434.5 374.44,435 383.9,435.6" fill="none" stroke="#3aaa3a" stroke-width="1.15" stroke-dasharray="1.2,2.1"/>
<polygon points="45.3,432.8 46.95,435.5 43.65,435.5" fill="#fff" stroke="#0a9a0a" stroke-width="1.05" stroke-linejoin="round"/>
<polygon points="52.76,430 54.41,432.7 51.11,432.7" fill="#fff" stroke="#0a9a0a" stroke-width="1.05" stroke-linejoin="round"/>
<polygon points="62.22,429 63.87,431.7 60.57,431.7" fill="#fff" stroke="#0a9a0a" stroke-width="1.05" stroke-linejoin="round"/>
<polygon points="71.68,428.8 73.33,431.5 70.03,431.5" fill="#fff" stroke="#0a9a0a" stroke-width="1.05" stroke-linejoin="round"/>
<polygon points="81.14,428.8 82.79,431.5 79.49,431.5" fill="#fff" stroke="#0a9a0a" stroke-width="1.05" stroke-linejoin="round"/>
<polygon points="90.61,428.9 92.26,431.6 88.96,431.6" fill="#fff" stroke="#0a9a0a" stroke-width="1.05" stroke-linejoin="round"/>
<polygon points="100.07,429 101.72,431.7 98.42,431.7" fill="#fff" stroke="#0a9a0a" stroke-width="1.05" stroke-linejoin="round"/>
<polygon points="109.53,429.1 111.18,431.8 107.88,431.8" fill="#fff" stroke="#0a9a0a" stroke-width="1.05" stroke-linejoin="round"/>
<polygon points="118.99,429.1 120.64,431.8 117.34,431.8" fill="#fff" stroke="#0a9a0a" stroke-width="1.05" stroke-linejoin="round"/>
<polygon points="128.45,429.1 130.1,431.8 126.8,431.8" fill="#fff" stroke="#0a9a0a" stroke-width="1.05" stroke-linejoin="round"/>
<polygon points="137.91,429.1 139.56,431.8 136.26,431.8" fill="#fff" stroke="#0a9a0a" stroke-width="1.05" stroke-linejoin="round"/>
<polygon points="147.37,429.1 149.02,431.8 145.72,431.8" fill="#fff" stroke="#0a9a0a" stroke-width="1.05" stroke-linejoin="round"/>
<polygon points="156.83,429.6 158.48,432.3 155.18,432.3" fill="#fff" stroke="#0a9a0a" stroke-width="1.05" stroke-linejoin="round"/>
<polygon points="166.29,429.6 167.94,432.3 164.64,432.3" fill="#fff" stroke="#0a9a0a" stroke-width="1.05" stroke-linejoin="round"/>
<polygon points="175.76,429.1 177.41,431.8 174.11,431.8" fill="#fff" stroke="#0a9a0a" stroke-width="1.05" stroke-linejoin="round"/>
<polygon points="185.22,429.1 186.87,431.8 183.57,431.8" fill="#fff" stroke="#0a9a0a" stroke-width="1.05" stroke-linejoin="round"/>
<polygon points="194.68,429.1 196.33,431.8 193.03,431.8" fill="#fff" stroke="#0a9a0a" stroke-width="1.05" stroke-linejoin="round"/>
<polygon points="204.14,429.3 205.79,432 202.49,432" fill="#fff" stroke="#0a9a0a" stroke-width="1.05" stroke-linejoin="round"/>
<polygon points="215.3,429.4 216.95,432.1 213.65,432.1" fill="#fff" stroke="#0a9a0a" stroke-width="1.05" stroke-linejoin="round"/>
<polygon points="223.06,429.4 224.71,432.1 221.41,432.1" fill="#fff" stroke="#0a9a0a" stroke-width="1.05" stroke-linejoin="round"/>
<polygon points="232.52,429.4 234.17,432.1 230.87,432.1" fill="#fff" stroke="#0a9a0a" stroke-width="1.05" stroke-linejoin="round"/>
<polygon points="241.98,429.5 243.63,432.2 240.33,432.2" fill="#fff" stroke="#0a9a0a" stroke-width="1.05" stroke-linejoin="round"/>
<polygon points="251.44,429.5 253.09,432.2 249.79,432.2" fill="#fff" stroke="#0a9a0a" stroke-width="1.05" stroke-linejoin="round"/>
<polygon points="260.91,429.6 262.56,432.3 259.26,432.3" fill="#fff" stroke="#0a9a0a" stroke-width="1.05" stroke-linejoin="round"/>
<polygon points="270.37,429.88 272.02,432.57 268.72,432.57" fill="#fff" stroke="#0a9a0a" stroke-width="1.05" stroke-linejoin="round"/>
<polygon points="279.83,430.15 281.48,432.85 278.18,432.85" fill="#fff" stroke="#0a9a0a" stroke-width="1.05" stroke-linejoin="round"/>
<polygon points="289.29,430.43 290.94,433.12 287.64,433.12" fill="#fff" stroke="#0a9a0a" stroke-width="1.05" stroke-linejoin="round"/>
<polygon points="298.75,430.7 300.4,433.4 297.1,433.4" fill="#fff" stroke="#0a9a0a" stroke-width="1.05" stroke-linejoin="round"/>
<polygon points="308.21,430.98 309.86,433.68 306.56,433.68" fill="#fff" stroke="#0a9a0a" stroke-width="1.05" stroke-linejoin="round"/>
<polygon points="317.67,431.25 319.32,433.95 316.02,433.95" fill="#fff" stroke="#0a9a0a" stroke-width="1.05" stroke-linejoin="round"/>
<polygon points="327.13,431.53 328.78,434.23 325.48,434.23" fill="#fff" stroke="#0a9a0a" stroke-width="1.05" stroke-linejoin="round"/>
<polygon points="336.59,431.8 338.24,434.5 334.94,434.5" fill="#fff" stroke="#0a9a0a" stroke-width="1.05" stroke-linejoin="round"/>
<polygon points="346.06,432 347.71,434.7 344.41,434.7" fill="#fff" stroke="#0a9a0a" stroke-width="1.05" stroke-linejoin="round"/>
<polygon points="355.52,432.6 357.17,435.3 353.87,435.3" fill="#fff" stroke="#0a9a0a" stroke-width="1.05" stroke-linejoin="round"/>
<polygon points="364.98,433 366.63,435.7 363.33,435.7" fill="#fff" stroke="#0a9a0a" stroke-width="1.05" stroke-linejoin="round"/>
<polygon points="374.44,433.5 376.09,436.2 372.79,436.2" fill="#fff" stroke="#0a9a0a" stroke-width="1.05" stroke-linejoin="round"/>
<polygon points="383.9,434.1 385.55,436.8 382.25,436.8" fill="#fff" stroke="#0a9a0a" stroke-width="1.05" stroke-linejoin="round"/>
<polyline points="45.3,311.4 52.76,317.5 62.22,333.9 71.68,346.1 81.14,347.1 90.61,359.3 100.07,366.8 109.53,379.8 118.99,383.2 128.45,388.1 137.91,388.9 147.37,391.9 156.83,395 166.29,395.8 175.76,396.8 185.22,397.3 194.68,397.6 204.14,398.1 215.3,398.4 223.06,398.9 232.52,399.3 241.98,399.8 251.44,400.7 260.91,401.1 270.37,401.1 279.83,401.5 289.29,402 298.75,402.4 308.21,403 317.67,403.5 327.13,404.2 336.59,404.8 346.06,405.6 355.52,406.9 364.98,408 374.44,409.7 383.9,411.6" fill="none" stroke="#ffb070" stroke-width="1.15" stroke-dasharray="1.2,2.1"/>
<polygon points="45.3,309.65 47.05,311.4 45.3,313.15 43.55,311.4" fill="#fff" stroke="#ff8000" stroke-width="0.85"/>
<polygon points="52.76,315.75 54.51,317.5 52.76,319.25 51.01,317.5" fill="#fff" stroke="#ff8000" stroke-width="0.85"/>
<polygon points="62.22,332.15 63.97,333.9 62.22,335.65 60.47,333.9" fill="#fff" stroke="#ff8000" stroke-width="0.85"/>
<polygon points="71.68,344.35 73.43,346.1 71.68,347.85 69.93,346.1" fill="#fff" stroke="#ff8000" stroke-width="0.85"/>
<polygon points="81.14,345.35 82.89,347.1 81.14,348.85 79.39,347.1" fill="#fff" stroke="#ff8000" stroke-width="0.85"/>
<polygon points="90.61,357.55 92.36,359.3 90.61,361.05 88.86,359.3" fill="#fff" stroke="#ff8000" stroke-width="0.85"/>
<polygon points="100.07,365.05 101.82,366.8 100.07,368.55 98.32,366.8" fill="#fff" stroke="#ff8000" stroke-width="0.85"/>
<polygon points="109.53,378.05 111.28,379.8 109.53,381.55 107.78,379.8" fill="#fff" stroke="#ff8000" stroke-width="0.85"/>
<polygon points="118.99,381.45 120.74,383.2 118.99,384.95 117.24,383.2" fill="#fff" stroke="#ff8000" stroke-width="0.85"/>
<polygon points="128.45,386.35 130.2,388.1 128.45,389.85 126.7,388.1" fill="#fff" stroke="#ff8000" stroke-width="0.85"/>
<polygon points="137.91,387.15 139.66,388.9 137.91,390.65 136.16,388.9" fill="#fff" stroke="#ff8000" stroke-width="0.85"/>
<polygon points="147.37,390.15 149.12,391.9 147.37,393.65 145.62,391.9" fill="#fff" stroke="#ff8000" stroke-width="0.85"/>
<polygon points="156.83,393.25 158.58,395 156.83,396.75 155.08,395" fill="#fff" stroke="#ff8000" stroke-width="0.85"/>
<polygon points="166.29,394.05 168.04,395.8 166.29,397.55 164.54,395.8" fill="#fff" stroke="#ff8000" stroke-width="0.85"/>
<polygon points="175.76,395.05 177.51,396.8 175.76,398.55 174.01,396.8" fill="#fff" stroke="#ff8000" stroke-width="0.85"/>
<polygon points="185.22,395.55 186.97,397.3 185.22,399.05 183.47,397.3" fill="#fff" stroke="#ff8000" stroke-width="0.85"/>
<polygon points="194.68,395.85 196.43,397.6 194.68,399.35 192.93,397.6" fill="#fff" stroke="#ff8000" stroke-width="0.85"/>
<polygon points="204.14,396.35 205.89,398.1 204.14,399.85 202.39,398.1" fill="#fff" stroke="#ff8000" stroke-width="0.85"/>
<polygon points="215.3,396.65 217.05,398.4 215.3,400.15 213.55,398.4" fill="#fff" stroke="#ff8000" stroke-width="0.85"/>
<polygon points="223.06,397.15 224.81,398.9 223.06,400.65 221.31,398.9" fill="#fff" stroke="#ff8000" stroke-width="0.85"/>
<polygon points="232.52,397.55 234.27,399.3 232.52,401.05 230.77,399.3" fill="#fff" stroke="#ff8000" stroke-width="0.85"/>
<polygon points="241.98,398.05 243.73,399.8 241.98,401.55 240.23,399.8" fill="#fff" stroke="#ff8000" stroke-width="0.85"/>
<polygon points="251.44,398.95 253.19,400.7 251.44,402.45 249.69,400.7" fill="#fff" stroke="#ff8000" stroke-width="0.85"/>
<polygon points="260.91,399.35 262.66,401.1 260.91,402.85 259.16,401.1" fill="#fff" stroke="#ff8000" stroke-width="0.85"/>
<polygon points="270.37,399.35 272.12,401.1 270.37,402.85 268.62,401.1" fill="#fff" stroke="#ff8000" stroke-width="0.85"/>
<polygon points="279.83,399.75 281.58,401.5 279.83,403.25 278.08,401.5" fill="#fff" stroke="#ff8000" stroke-width="0.85"/>
<polygon points="289.29,400.25 291.04,402 289.29,403.75 287.54,402" fill="#fff" stroke="#ff8000" stroke-width="0.85"/>
<polygon points="298.75,400.65 300.5,402.4 298.75,404.15 297,402.4" fill="#fff" stroke="#ff8000" stroke-width="0.85"/>
<polygon points="308.21,401.25 309.96,403 308.21,404.75 306.46,403" fill="#fff" stroke="#ff8000" stroke-width="0.85"/>
<polygon points="317.67,401.75 319.42,403.5 317.67,405.25 315.92,403.5" fill="#fff" stroke="#ff8000" stroke-width="0.85"/>
<polygon points="327.13,402.45 328.88,404.2 327.13,405.95 325.38,404.2" fill="#fff" stroke="#ff8000" stroke-width="0.85"/>
<polygon points="336.59,403.05 338.34,404.8 336.59,406.55 334.84,404.8" fill="#fff" stroke="#ff8000" stroke-width="0.85"/>
<polygon points="346.06,403.85 347.81,405.6 346.06,407.35 344.31,405.6" fill="#fff" stroke="#ff8000" stroke-width="0.85"/>
<polygon points="355.52,405.15 357.27,406.9 355.52,408.65 353.77,406.9" fill="#fff" stroke="#ff8000" stroke-width="0.85"/>
<polygon points="364.98,406.25 366.73,408 364.98,409.75 363.23,408" fill="#fff" stroke="#ff8000" stroke-width="0.85"/>
<polygon points="374.44,407.95 376.19,409.7 374.44,411.45 372.69,409.7" fill="#fff" stroke="#ff8000" stroke-width="0.85"/>
<polygon points="383.9,409.85 385.65,411.6 383.9,413.35 382.15,411.6" fill="#fff" stroke="#ff8000" stroke-width="0.85"/>
<line x1="39.5" y1="281" x2="387.4" y2="281" stroke="#9a9a9a" stroke-width="1.4"/><line x1="387.4" y1="281" x2="387.4" y2="498.3" stroke="#6e6e6e" stroke-width="1.1"/><line x1="39.5" y1="498.3" x2="387.4" y2="498.3" stroke="#666" stroke-width="1.3"/><line x1="39.5" y1="280.4" x2="39.5" y2="498.9" stroke="#3c3c3c" stroke-width="1.1"/>
<line x1="228" y1="24.7" x2="249" y2="24.7" stroke="#ff5a5a" stroke-width="1"/>
<circle cx="238.5" cy="24.7" r="1.7" fill="#ff0000"/>
<text transform="translate(251.8,28.1) scale(0.99,1)" font-size="9.5" text-anchor="start" fill="#000" stroke="#000" stroke-width="0.16">Virgin HMA</text>
<line x1="228" y1="36.5" x2="249" y2="36.5" stroke="#3a3ae0" stroke-width="1"/>
<polygon points="238.5,34.7 240.48,37.94 236.52,37.94" fill="#0a0ad8"/>
<text transform="translate(251.8,39.9) scale(0.99,1)" font-size="9.5" text-anchor="start" fill="#000" stroke="#000" stroke-width="0.16">RTFO HMA</text>
<line x1="228" y1="48.3" x2="249" y2="48.3" stroke="#48aa48" stroke-width="1"/>
<polygon points="238.5,46.35 240.45,48.3 238.5,50.25 236.55,48.3" fill="#008000"/>
<text transform="translate(251.8,51.7) scale(0.99,1)" font-size="9.5" text-anchor="start" fill="#000" stroke="#000" stroke-width="0.16">PAV HMA</text>
<line x1="302" y1="24.7" x2="322.5" y2="24.7" stroke="#ff5a5a" stroke-width="1" stroke-dasharray="1.2,2.1"/>
<circle cx="312.6" cy="24.7" r="1.3" fill="#fff" stroke="#ff0000" stroke-width="0.85"/>
<text transform="translate(326.6,28.1) scale(0.99,1)" font-size="9.5" text-anchor="start" fill="#000" stroke="#000" stroke-width="0.16">Fresh WMA</text>
<line x1="302" y1="36.5" x2="322.5" y2="36.5" stroke="#3a3ae0" stroke-width="1" stroke-dasharray="1.2,2.1"/>
<polygon points="312.6,35 314.25,37.7 310.95,37.7" fill="#fff" stroke="#0a0ad8" stroke-width="1.05" stroke-linejoin="round"/>
<text transform="translate(326.6,39.9) scale(0.99,1)" font-size="9.5" text-anchor="start" fill="#000" stroke="#000" stroke-width="0.16">RTFO WMA</text>
<line x1="302" y1="48.3" x2="322.5" y2="48.3" stroke="#48aa48" stroke-width="1" stroke-dasharray="1.2,2.1"/>
<polygon points="312.6,46.35 314.55,48.3 312.6,50.25 310.65,48.3" fill="#008000"/>
<text transform="translate(326.6,51.7) scale(0.99,1)" font-size="9.5" text-anchor="start" fill="#000" stroke="#000" stroke-width="0.16">PAV WMA</text>
<line x1="219.3" y1="291.7" x2="241.4" y2="291.7" stroke="#9a3030" stroke-width="1"/>
<circle cx="230.4" cy="291.7" r="1.7" fill="#800000"/>
<text transform="translate(243.9,294.5) scale(1.09,1)" font-size="8.9" text-anchor="start" fill="#000" stroke="#000" stroke-width="0.16">0-day HMA</text>
<line x1="219.3" y1="303.3" x2="241.4" y2="303.3" stroke="#3aaa3a" stroke-width="1"/>
<polygon points="230.4,301.5 232.38,304.74 228.42,304.74" fill="#0a9a0a"/>
<text transform="translate(243.9,306.1) scale(1.09,1)" font-size="8.9" text-anchor="start" fill="#000" stroke="#000" stroke-width="0.16">3-day HMA</text>
<line x1="219.3" y1="314.9" x2="241.4" y2="314.9" stroke="#ffb070" stroke-width="1"/>
<polygon points="230.4,312.95 232.35,314.9 230.4,316.85 228.45,314.9" fill="#ff8000"/>
<text transform="translate(243.9,317.7) scale(1.09,1)" font-size="8.9" text-anchor="start" fill="#000" stroke="#000" stroke-width="0.16">6-day HMA</text>
<line x1="219.3" y1="326.5" x2="241.4" y2="326.5" stroke="#8596ff" stroke-width="1"/>
<rect x="228.9" y="325" width="3" height="3" fill="#3355ff"/>
<text transform="translate(243.9,329.3) scale(1.09,1)" font-size="8.9" text-anchor="start" fill="#000" stroke="#000" stroke-width="0.16">9-day HMA</text>
<line x1="302.8" y1="291.7" x2="323.8" y2="291.7" stroke="#9a3030" stroke-width="1" stroke-dasharray="1.2,2.1"/>
<circle cx="313.5" cy="291.7" r="1.3" fill="#fff" stroke="#800000" stroke-width="0.85"/>
<text transform="translate(327.6,294.5) scale(1.09,1)" font-size="8.9" text-anchor="start" fill="#000" stroke="#000" stroke-width="0.16">0-day WMA</text>
<line x1="302.8" y1="303.3" x2="323.8" y2="303.3" stroke="#3aaa3a" stroke-width="1" stroke-dasharray="1.2,2.1"/>
<polygon points="313.5,301.8 315.15,304.5 311.85,304.5" fill="#fff" stroke="#0a9a0a" stroke-width="1.05" stroke-linejoin="round"/>
<text transform="translate(327.6,306.1) scale(1.09,1)" font-size="8.9" text-anchor="start" fill="#000" stroke="#000" stroke-width="0.16">3-day WMA</text>
<line x1="302.8" y1="314.9" x2="323.8" y2="314.9" stroke="#ffb070" stroke-width="1" stroke-dasharray="1.2,2.1"/>
<polygon points="313.5,313.15 315.25,314.9 313.5,316.65 311.75,314.9" fill="#fff" stroke="#ff8000" stroke-width="0.85"/>
<text transform="translate(327.6,317.7) scale(1.09,1)" font-size="8.9" text-anchor="start" fill="#000" stroke="#000" stroke-width="0.16">6-day WMA</text>
<g fill="#000" stroke="#000" stroke-width="0.22"><text transform="translate(39.3,230.8) scale(0.94,1)" font-size="9.6" text-anchor="end">1</text>
<text transform="translate(39.3,157.7) scale(0.94,1)" font-size="9.6" text-anchor="end">10</text>
<text transform="translate(39.3,84.6) scale(0.94,1)" font-size="9.6" text-anchor="end">100</text>
<text transform="translate(39.3,11.5) scale(0.94,1)" font-size="9.6" text-anchor="end">1000</text>
<text transform="translate(48.2,240.3) scale(0.94,1)" font-size="9.6" text-anchor="middle">0.1</text>
<text transform="translate(132.05,240.3) scale(0.94,1)" font-size="9.6" text-anchor="middle">1</text>
<text transform="translate(215.9,240.3) scale(0.94,1)" font-size="9.6" text-anchor="middle">10</text>
<text transform="translate(299.75,240.3) scale(0.94,1)" font-size="9.6" text-anchor="middle">100</text>
<text transform="translate(383.6,240.3) scale(0.94,1)" font-size="9.6" text-anchor="middle">1000</text>
<text transform="translate(216.1,255) scale(1.12,1)" font-size="8.6" text-anchor="middle">Shear rate [1/s]</text>
<text x="199.8" y="270.3" font-size="12.8" font-weight="bold" text-anchor="middle" font-family="Liberation Serif, serif" stroke-width="0"><tspan font-weight="normal">(</tspan>a<tspan font-weight="normal">)</tspan></text>
<text transform="translate(14.1,117.6) rotate(-90) scale(1.12,1)" font-size="8.6" text-anchor="middle" stroke-width="0.08">Viscosity [Pa&#183;s]</text>
<text transform="translate(33.8,501.2) scale(0.94,1)" font-size="9.6" text-anchor="end">1</text>
<text transform="translate(33.8,392.55) scale(0.94,1)" font-size="9.6" text-anchor="end">10</text>
<text transform="translate(33.8,283.9) scale(0.94,1)" font-size="9.6" text-anchor="end">100</text>
<text transform="translate(43.3,510.6) scale(0.94,1)" font-size="9.6" text-anchor="middle">0.1</text>
<text transform="translate(128.45,510.6) scale(0.94,1)" font-size="9.6" text-anchor="middle">1</text>
<text transform="translate(213.6,510.6) scale(0.94,1)" font-size="9.6" text-anchor="middle">10</text>
<text transform="translate(298.75,510.6) scale(0.94,1)" font-size="9.6" text-anchor="middle">100</text>
<text transform="translate(383.9,510.6) scale(0.94,1)" font-size="9.6" text-anchor="middle">1000</text>
<text transform="translate(213.2,526.8) scale(1.12,1)" font-size="8.6" text-anchor="middle">Shear rate [1/s]</text>
<text x="199.6" y="542.3" font-size="12.8" font-weight="bold" text-anchor="middle" font-family="Liberation Serif, serif" stroke-width="0"><tspan font-weight="normal">(</tspan>b<tspan font-weight="normal">)</tspan></text>
<text transform="translate(13.5,389.8) rotate(-90) scale(1.12,1)" font-size="8.6" text-anchor="middle" stroke-width="0.08">Viscosity [Pa&#183;s]</text></g>
</svg>
</body></html>
